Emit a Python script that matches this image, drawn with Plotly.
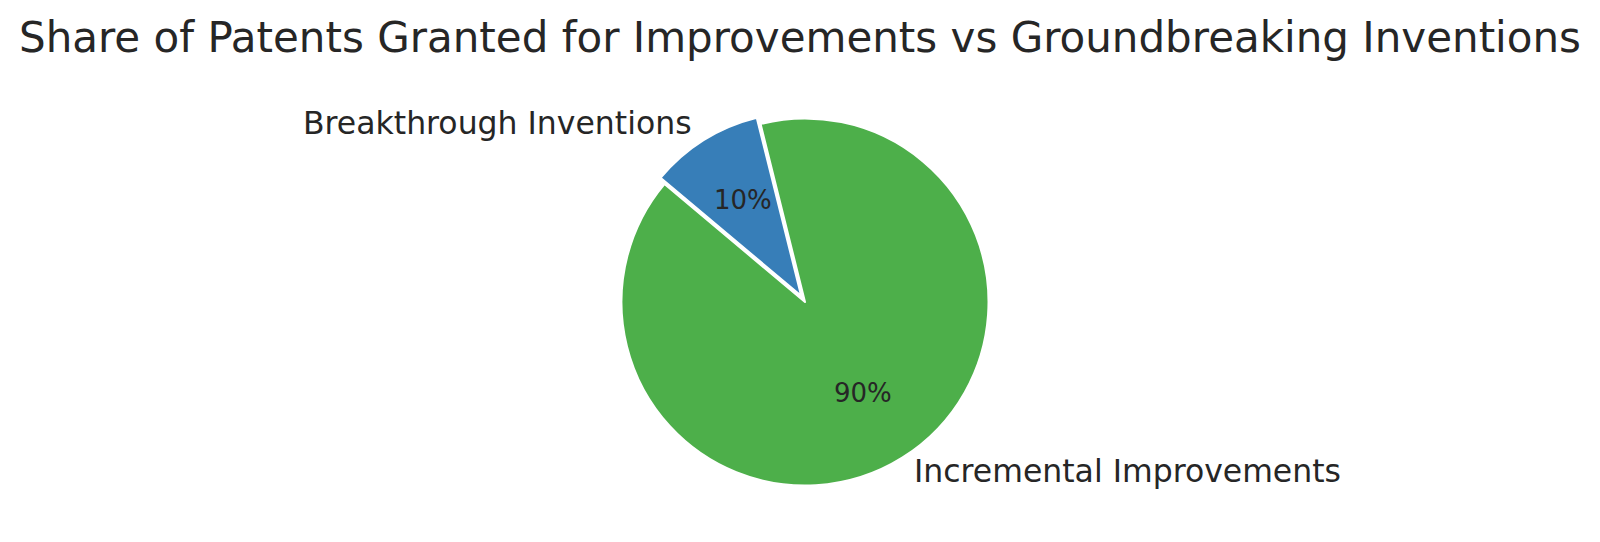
import math
import plotly.graph_objects as go

labels = ["Breakthrough Inventions", "Incremental Improvements"]
values = [10, 90]
colors = ["#377eb8", "#4daf4a"]
pulls = [0.04, 0.0]
start_angle = 140  # degrees, counter-clockwise from +x, slices drawn clockwise

W, H = 1600, 542
cx, cy, r = 805.0, 302.0, 183.5
text_dy = -2.0  # small vertical nudge of text baselines (px)
max_pull = max(pulls)
half = r * (1 + max_pull)

dom_x = [(cx - half) / W, (cx + half) / W]
dom_y = [(H - cy - half) / H, (H - cy + half) / H]

text_color = "#262626"
font_family = "DejaVu Sans"

fig = go.Figure()
fig.add_trace(go.Pie(
    labels=labels,
    values=values,
    marker=dict(colors=colors, line=dict(color="white", width=2)),
    pull=pulls,
    sort=False,
    direction="clockwise",
    rotation=90 - start_angle,
    textinfo="none",
    hoverinfo="label+percent",
    showlegend=False,
    domain=dict(x=dom_x, y=dom_y),
))

annotations = []
total = sum(values)
angle = start_angle
for lab, val, pl in zip(labels, values, pulls):
    span = 360.0 * val / total
    mid = math.radians(angle - span / 2)
    angle -= span
    sx = cx + pl * r * math.cos(mid)
    sy = cy - pl * r * math.sin(mid)
    # outer label
    lx = sx + 1.1 * r * math.cos(mid)
    ly = sy - 1.1 * r * math.sin(mid) + text_dy
    annotations.append(dict(
        x=lx / W, y=1 - ly / H, xref="paper", yref="paper",
        text=lab, showarrow=False,
        xanchor="right" if math.cos(mid) < 0 else "left", yanchor="middle",
        font=dict(size=31.5, color=text_color, family=font_family),
    ))
    # percentage label
    px = sx + 0.6 * r * math.cos(mid)
    py = sy - 0.6 * r * math.sin(mid) + text_dy
    annotations.append(dict(
        x=px / W, y=1 - py / H, xref="paper", yref="paper",
        text=f"{100 * val / total:.0f}%", showarrow=False,
        xanchor="center", yanchor="middle",
        font=dict(size=26, color=text_color, family=font_family),
    ))

fig.update_layout(
    width=W, height=H,
    margin=dict(l=0, r=0, t=0, b=0),
    paper_bgcolor="white",
    plot_bgcolor="white",
    title=dict(
        text="Share of Patents Granted for Improvements vs Groundbreaking Inventions",
        x=0.5, xanchor="center", y=1 - 37 / H, yanchor="middle",
        xref="paper", yref="container",
        font=dict(size=42, color=text_color, family=font_family),
    ),
    annotations=annotations,
)

fig.write_html("out.html")
